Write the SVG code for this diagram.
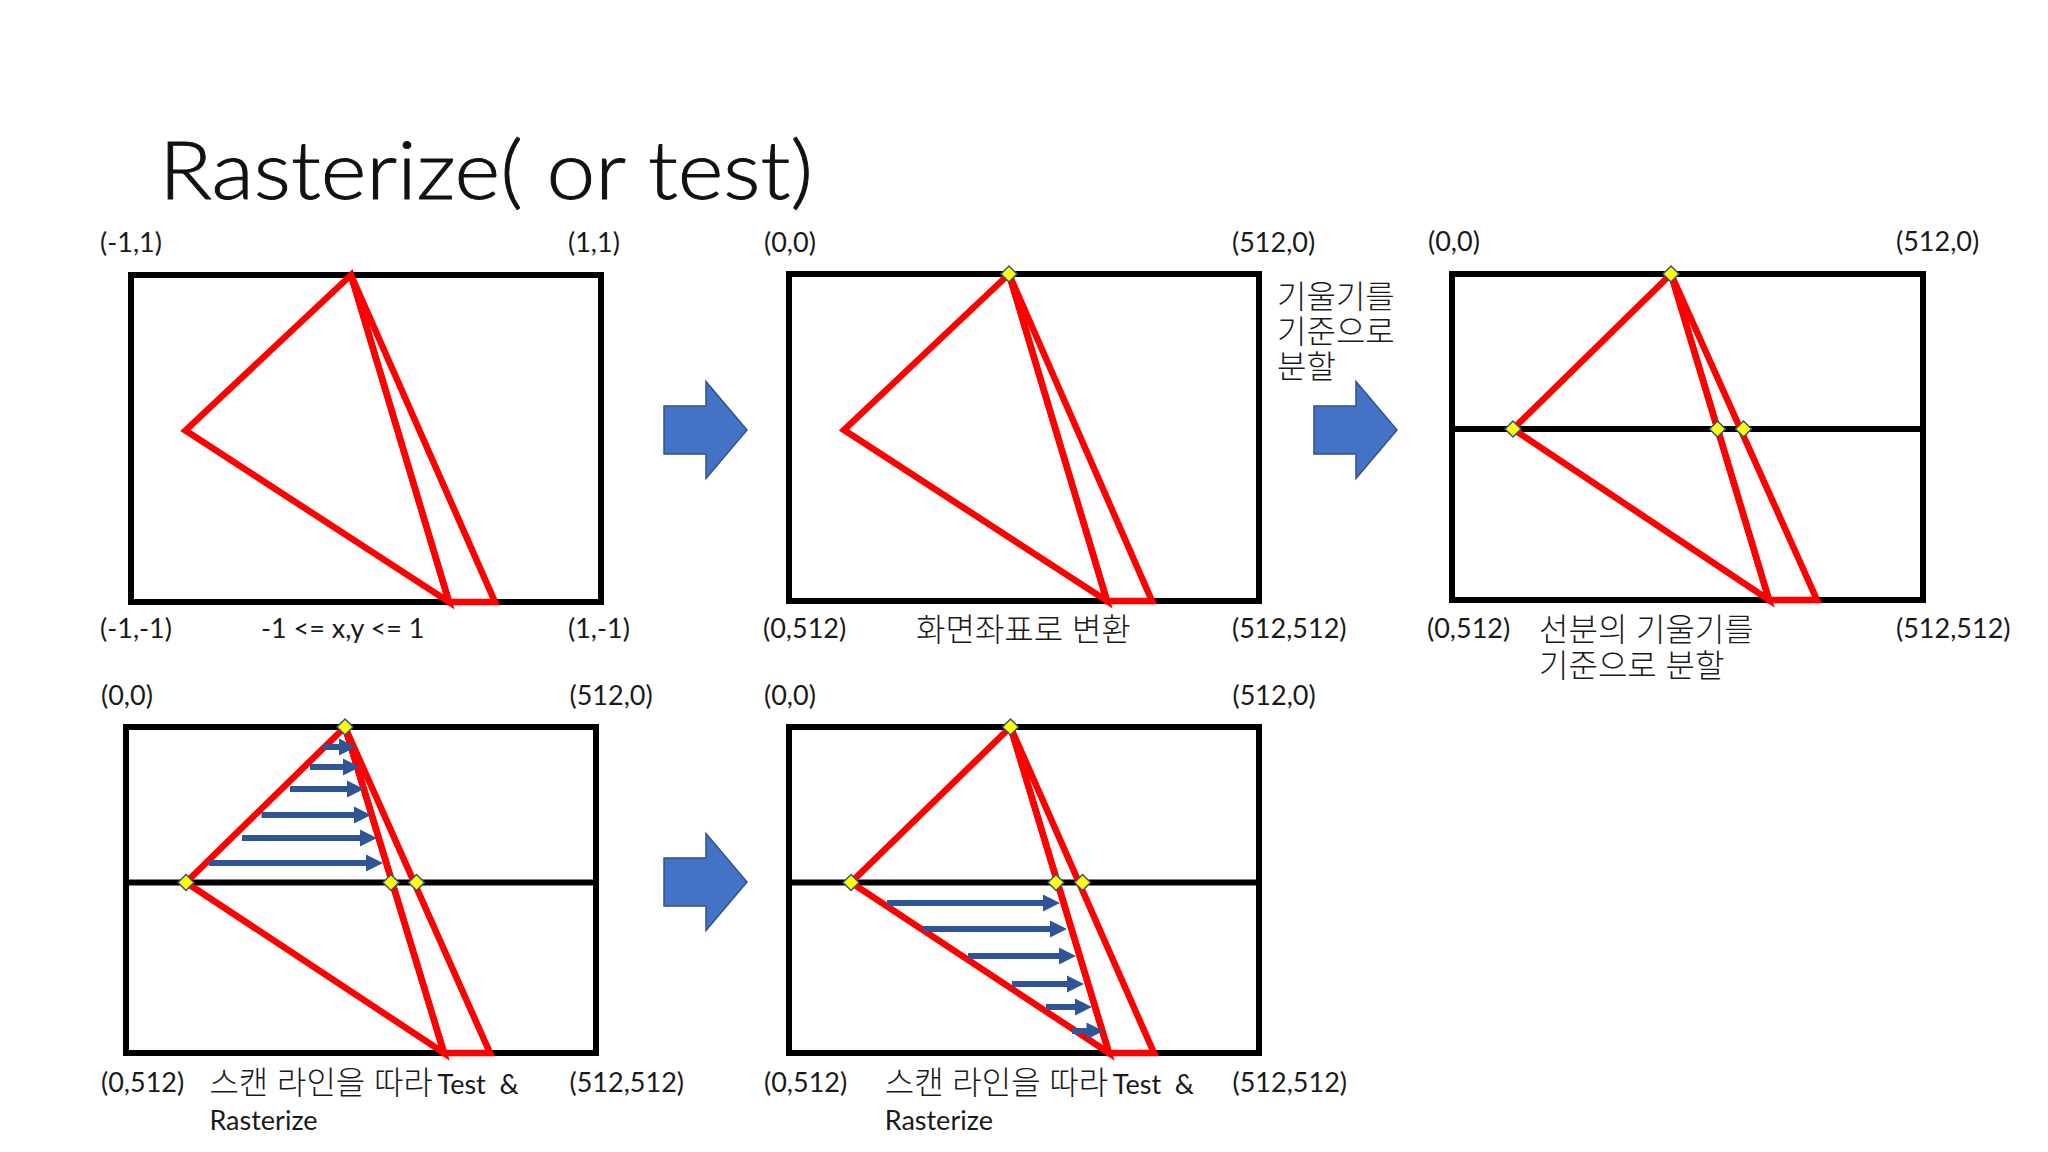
<svg xmlns="http://www.w3.org/2000/svg" xmlns:xlink="http://www.w3.org/1999/xlink" width="2048" height="1152" viewBox="0 0 2048 1152">
<style>
.frame{fill:none;stroke:#000;stroke-width:6}
.mid{stroke:#000;stroke-width:6}
.tri{fill:none;stroke:#FF0000;stroke-width:6.5;stroke-linejoin:miter}
.dia{fill:#FFFF00;stroke:#2F528F;stroke-width:1.5}
.scan{fill:#2F5597}
.big{fill:#4472C4;stroke:#2F528F;stroke-width:1.5}
.lbl{font-family:Lato,"Noto Sans CJK KR",sans-serif;font-size:27px;font-weight:400;fill:#1a1a1a}
.kr{font-family:Lato,"Noto Sans CJK KR",sans-serif;font-size:32px;font-weight:300;fill:#1a1a1a}
.en{font-size:27px;font-weight:400}
.title{font-family:Lato,sans-serif;font-weight:300;font-size:80px;fill:#111;stroke:#111;stroke-width:0.9}
</style>
<defs>
<path id="dia" d="M0,-8 L8,0 L0,8 L-8,0Z"/>
</defs>
<rect width="2048" height="1152" fill="#fff"/>
<text class="title" x="159" y="198.5" textLength="654" lengthAdjust="spacingAndGlyphs">Rasterize( or test)</text>

<g id="panel1">
<rect class="frame" x="131" y="275" width="470" height="327"/>
<polygon class="tri" points="351,275 185.5,430.5 449,602"/>
<polygon class="tri" points="351,275 449,602 495,602"/>
<text class="lbl" x="100" y="252">(-1,1)</text>
<text class="lbl" x="568" y="252">(1,1)</text>
<text class="lbl" x="100" y="638">(-1,-1)</text>
<text class="lbl" x="261" y="638">-1 &lt;= x,y &lt;= 1</text>
<text class="lbl" x="568" y="638">(1,-1)</text>
</g>

<g id="panel2">
<rect class="frame" x="789" y="274" width="470" height="327"/>
<polygon class="tri" points="1009,274 844,430 1107,601"/>
<polygon class="tri" points="1009,274 1107,601 1152,601"/>
<use href="#dia" class="dia" x="1009" y="274"/>
<text class="lbl" x="764" y="252">(0,0)</text>
<text class="lbl" x="1232" y="252">(512,0)</text>
<text class="lbl" x="763" y="638">(0,512)</text>
<text class="kr" x="916" y="641">화면좌표로 변환</text>
<text class="lbl" x="1232" y="638">(512,512)</text>
<text class="kr" x="1277" y="308">기울기를</text>
<text class="kr" x="1277" y="343">기준으로</text>
<text class="kr" x="1277" y="378">분할</text>
</g>

<g id="panel3">
<rect class="frame" x="1452" y="274" width="471" height="326"/>
<line class="mid" x1="1452" y1="429" x2="1923" y2="429"/>
<polygon class="tri" points="1671,274 1513,429 1769,600"/>
<polygon class="tri" points="1671,274 1769,600 1817,600"/>
<use href="#dia" class="dia" x="1671" y="274"/>
<use href="#dia" class="dia" x="1513" y="429"/>
<use href="#dia" class="dia" x="1717.5" y="429"/>
<use href="#dia" class="dia" x="1743.5" y="429"/>
<text class="lbl" x="1428" y="251">(0,0)</text>
<text class="lbl" x="1896" y="251">(512,0)</text>
<text class="lbl" x="1427" y="638">(0,512)</text>
<text class="kr" x="1539" y="641">선분의 기울기를</text>
<text class="kr" x="1539" y="677">기준으로 분할</text>
<text class="lbl" x="1896" y="638">(512,512)</text>
</g>

<g id="panel4">
<rect class="frame" x="126" y="727" width="470" height="326"/>
<line class="mid" x1="126" y1="882.5" x2="596" y2="882.5"/>
<polygon class="tri" points="345,727 186,882.5 444,1053"/>
<polygon class="tri" points="345,727 444,1053 490,1053"/>
<path class="scan" d="M323,744 H339 V738.5 L356,747 L339,755.5 V750 H323Z"/>
<path class="scan" d="M310,764 H343 V758.5 L360,767 L343,775.5 V770 H310Z"/>
<path class="scan" d="M290,786 H347 V780.5 L364,789 L347,797.5 V792 H290Z"/>
<path class="scan" d="M261.5,812 H354 V806.5 L371,815 L354,823.5 V818 H261.5Z"/>
<path class="scan" d="M242,835 H360 V829.5 L377,838 L360,846.5 V841 H242Z"/>
<path class="scan" d="M209,860 H366 V854.5 L383,863 L366,871.5 V866 H209Z"/>
<use href="#dia" class="dia" x="345" y="727"/>
<use href="#dia" class="dia" x="186" y="882.5"/>
<use href="#dia" class="dia" x="391" y="882.5"/>
<use href="#dia" class="dia" x="416.5" y="882.5"/>
<text class="lbl" x="101" y="705">(0,0)</text>
<text class="lbl" x="569.5" y="705">(512,0)</text>
<text class="lbl" x="101" y="1092">(0,512)</text>
<text class="kr" x="209.4" y="1094">스캔 라인을 따라 <tspan class="en" x="437.5">Test</tspan><tspan class="en" x="499.5">&amp;</tspan></text>
<text class="lbl" x="209.4" y="1130">Rasterize</text>
<text class="lbl" x="569.5" y="1092">(512,512)</text>
</g>

<g id="panel5">
<rect class="frame" x="789" y="727" width="470" height="326"/>
<line class="mid" x1="789" y1="882.5" x2="1259" y2="882.5"/>
<polygon class="tri" points="1010.5,727 851,882.5 1109,1053"/>
<polygon class="tri" points="1010.5,727 1109,1053 1154,1053"/>
<path class="scan" d="M887,900 H1043 V894.5 L1060,903 L1043,911.5 V906 H887Z"/>
<path class="scan" d="M923,926 H1050 V920.5 L1067,929 L1050,937.5 V932 H923Z"/>
<path class="scan" d="M968,953 H1059 V947.5 L1076,956 L1059,964.5 V959 H968Z"/>
<path class="scan" d="M1012,981 H1067 V975.5 L1084,984 L1067,992.5 V987 H1012Z"/>
<path class="scan" d="M1046,1004 H1075 V998.5 L1092,1007 L1075,1015.5 V1010 H1046Z"/>
<path class="scan" d="M1072,1028 H1086.5 V1022.5 L1103.5,1031 L1086.5,1039.5 V1034 H1072Z"/>
<use href="#dia" class="dia" x="1010.5" y="727"/>
<use href="#dia" class="dia" x="851" y="882.5"/>
<use href="#dia" class="dia" x="1056" y="882.5"/>
<use href="#dia" class="dia" x="1082.5" y="882.5"/>
<text class="lbl" x="764" y="705">(0,0)</text>
<text class="lbl" x="1232.5" y="705">(512,0)</text>
<text class="lbl" x="764" y="1092">(0,512)</text>
<text class="kr" x="884.7" y="1094">스캔 라인을 따라 <tspan class="en" x="1112.8">Test</tspan><tspan class="en" x="1174.8">&amp;</tspan></text>
<text class="lbl" x="884.7" y="1130">Rasterize</text>
<text class="lbl" x="1232.5" y="1092">(512,512)</text>
</g>

<g id="connectors">
<polygon class="big" points="664,406 706,406 706,381.5 747,430 706,478.5 706,454 664,454"/>
<polygon class="big" points="1314,406 1356,406 1356,381.5 1397,430 1356,478.5 1356,454 1314,454"/>
<polygon class="big" points="664,858 706,858 706,833.5 747,882 706,930.5 706,906 664,906"/>
</g>
</svg>
